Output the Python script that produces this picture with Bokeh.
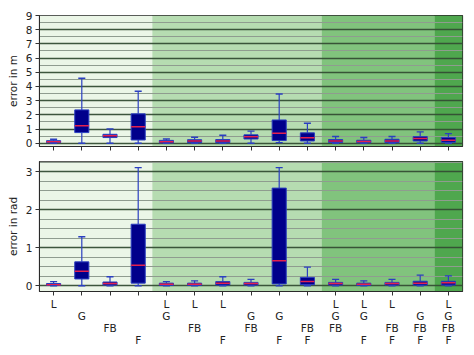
from bokeh.plotting import figure
from bokeh.models import Range1d, LinearAxis, FixedTicker, CustomLabelingPolicy
from bokeh.layouts import column
from bokeh.embed import file_html
from bokeh.resources import INLINE

# ---- data ----
combos = [["L"], ["G"], ["FB"], ["F"],
          ["L", "G"], ["L", "FB"], ["L", "F"], ["G", "FB"], ["G", "F"], ["FB", "F"],
          ["L", "G", "FB"], ["L", "G", "F"], ["L", "FB", "F"], ["G", "FB", "F"],
          ["L", "G", "FB", "F"]]
row_names = ["L", "G", "FB", "F"]
group_sizes = [4, 6, 4, 1]
group_colors = ["#ebf6e7", "#b6dcb1", "#81c37d", "#4fa74e"]

# position error (m)
m_low = [0.0, 0.0, 0.0, 0.0, 0.0, 0.0, 0.0, 0.0, 0.04, 0.0, 0.0, 0.0, 0.0, 0.0, 0.0]
m_q1 = [0.04, 0.75, 0.40, 0.23, 0.02, 0.03, 0.03, 0.30, 0.19, 0.16, 0.05, 0.03, 0.04, 0.16, 0.07]
m_med = [0.10, 1.24, 0.52, 1.17, 0.10, 0.15, 0.15, 0.45, 0.70, 0.38, 0.16, 0.12, 0.16, 0.33, 0.21]
m_q3 = [0.18, 2.35, 0.63, 2.07, 0.20, 0.25, 0.26, 0.59, 1.64, 0.73, 0.26, 0.21, 0.28, 0.47, 0.40]
m_high = [0.28, 4.58, 1.00, 3.66, 0.30, 0.42, 0.56, 0.85, 3.47, 1.41, 0.47, 0.40, 0.47, 0.80, 0.68]

# orientation error (rad)
r_low = [0.0, 0.0, 0.0, 0.0, 0.0, 0.0, 0.0, 0.0, 0.0, 0.0, 0.0, 0.0, 0.0, 0.0, 0.0]
r_q1 = [0.01, 0.18, 0.02, 0.07, 0.01, 0.01, 0.02, 0.02, 0.05, 0.03, 0.02, 0.01, 0.02, 0.02, 0.02]
r_med = [0.03, 0.38, 0.06, 0.54, 0.04, 0.04, 0.07, 0.06, 0.66, 0.11, 0.06, 0.04, 0.06, 0.07, 0.08]
r_q3 = [0.06, 0.63, 0.10, 1.62, 0.07, 0.07, 0.11, 0.09, 2.57, 0.22, 0.09, 0.07, 0.09, 0.12, 0.12]
r_high = [0.11, 1.29, 0.24, 3.11, 0.11, 0.13, 0.24, 0.17, 3.11, 0.49, 0.17, 0.13, 0.17, 0.28, 0.26]

m_ticks = [0, 1, 2, 3, 4, 5, 6, 7, 8, 9]
r_ticks = [0, 1, 2, 3]

# ---- style ----
FONT = "DejaVu Sans"
BOX_FILL = "#00008b"
BLUE = "#2b3fc0"
MED = "#e3204f"
positions = list(range(1, len(combos) + 1))
BW = 0.5
CW = 0.25


def make_fig(ylo, yhi, yticks, minor, ylabel, border_top, frame_h):
    p = figure(frame_width=423, frame_height=frame_h,
               x_range=Range1d(0.5, 15.5), y_range=Range1d(ylo, yhi),
               output_backend="svg", toolbar_location=None,
               min_border_left=39, min_border_right=4, min_border_top=border_top,
               min_border_bottom=2)
    p.background_fill_color = "white"
    p.border_fill_color = "white"
    p.outline_line_color = "#2a2a2a"
    p.outline_line_width = 1.2
    # backgrounds
    left = 0.5
    lefts, rights = [], []
    for g in group_sizes:
        lefts.append(left)
        rights.append(left + g)
        left += g
    p.quad(left=lefts, right=rights, bottom=ylo, top=yhi, fill_color=group_colors,
           line_color=None, level="image")
    # grids
    p.ygrid.ticker = FixedTicker(ticks=yticks, minor_ticks=minor)
    p.ygrid.grid_line_color = "#344d34"
    p.ygrid.grid_line_width = 1.6
    p.ygrid.grid_line_alpha = 0.95
    p.ygrid.minor_grid_line_color = "#8f9c8f"
    p.ygrid.minor_grid_line_width = 1.2
    p.xgrid.grid_line_color = None
    # y axis
    ya = p.yaxis[0]
    ya.ticker = FixedTicker(ticks=yticks, minor_ticks=[])
    ya.axis_label = ylabel
    ya.axis_label_text_font = FONT
    ya.axis_label_text_font_style = "normal"
    ya.axis_label_text_font_size = "10.5px"
    ya.axis_label_text_color = "#222222"
    ya.axis_label_standoff = 4
    ya.major_label_text_font = FONT
    ya.major_label_text_font_size = "10.5px"
    ya.major_label_text_color = "#222222"
    ya.major_label_standoff = 3
    ya.major_tick_out = 4
    ya.major_tick_in = 0
    ya.major_tick_line_color = "#333333"
    ya.axis_line_color = "#2a2a2a"
    # x axis ticks
    xa = p.xaxis[0]
    xa.ticker = FixedTicker(ticks=positions, minor_ticks=[])
    xa.major_tick_out = 4
    xa.major_tick_in = 0
    xa.major_tick_line_color = "#333333"
    xa.axis_line_color = "#2a2a2a"
    return p


def draw_boxes(p, low, q1, med, q3, high):
    p.segment(x0=positions, y0=q3, x1=positions, y1=high, line_color=BLUE, line_width=1.2)
    p.segment(x0=positions, y0=low, x1=positions, y1=q1, line_color=BLUE, line_width=1.2)
    p.vbar(x=positions, width=BW, bottom=q1, top=q3, fill_color=BOX_FILL,
           line_color=BLUE, line_width=1)
    p.segment(x0=[x - BW / 2 for x in positions], y0=med,
              x1=[x + BW / 2 for x in positions], y1=med, line_color=MED, line_width=1.5)
    p.segment(x0=[x - CW / 2 for x in positions], y0=high,
              x1=[x + CW / 2 for x in positions], y1=high, line_color=BLUE, line_width=1.4)
    p.segment(x0=[x - CW / 2 for x in positions], y0=low,
              x1=[x + CW / 2 for x in positions], y1=low, line_color=BLUE, line_width=1.4)


top = make_fig(-0.23, 9.0, m_ticks, [v + 0.5 for v in m_ticks[:-1]], "error in m", 15, 131)
draw_boxes(top, m_low, m_q1, m_med, m_q3, m_high)
top.xaxis[0].major_label_text_font_size = "0px"
top.xaxis[0].major_label_standoff = 0
top.xaxis[0].major_label_policy = CustomLabelingPolicy(code="return new Set()")
top.min_border_bottom = 8

r_minor = [i * 0.25 for i in range(0, 14) if i % 4 != 0]
bot = make_fig(-0.15, 3.27, r_ticks, r_minor, "error in rad", 7, 130)
draw_boxes(bot, r_low, r_q1, r_med, r_q3, r_high)

for k, name in enumerate(row_names):
    if k == 0:
        ax = bot.xaxis[0]
        ax.major_label_standoff = 2
        ax.major_label_overrides = {i + 1: (name if name in c else "")
                                    for i, c in enumerate(combos)}
    else:
        row_pos = [i + 1 for i, c in enumerate(combos) if name in c]
        ax = LinearAxis(ticker=FixedTicker(ticks=row_pos, minor_ticks=[]))
        ax.major_tick_out = 0
        ax.major_tick_in = 0
        ax.axis_line_color = None
        ax.major_label_standoff = -3
        ax.major_label_overrides = {x: name for x in row_pos}
        bot.add_layout(ax, "below")
    ax.major_label_text_font = FONT
    ax.major_label_text_font_size = "10.5px"
    ax.major_label_text_color = "#222222"

layout = column(top, bot)
open("out.html", "w").write(file_html(layout, INLINE))
